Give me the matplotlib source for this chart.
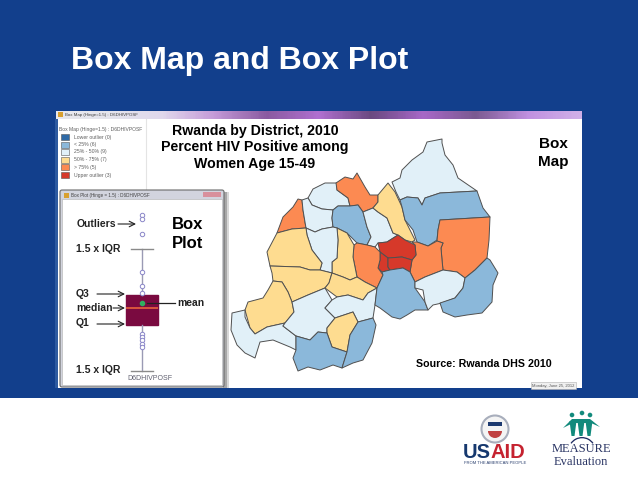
import matplotlib
matplotlib.use('Agg')
import matplotlib.pyplot as plt
import numpy as np
from matplotlib.colors import LinearSegmentedColormap
from matplotlib.patches import Rectangle, Polygon, Circle, FancyBboxPatch, Wedge

plt.rcParams['font.family'] = ['Liberation Sans', 'DejaVu Sans']

# box map classes
class_labels = ['Lower outlier (0)', '< 25% (6)', '25% - 50% (9)', '50% - 75% (7)', '> 75% (5)', 'Upper outlier (3)']
class_colors = ['#2f6aa6', '#8bb8da', '#e1f0f8', '#fedc90', '#fc8a52', '#d6392a']

# district outlines (pixels)
nw_lake = [(298,199),(302,200),(303,210),(305,222),(306,228),(292,229),(277,233),(283,217),(293,207)]
north_a = [(308,198),(313,189),(325,183),(337,183),(337,190),(348,198),(350,206),(338,206),(333,210),(322,209),(312,205)]
north_b = [(336,183),(345,177),(353,179),(357,173),(365,187),(370,195),(378,195),(378,202),(373,208),(363,212),(358,205),(350,206),(348,198),(337,190)]
north_c = [(302,200),(308,198),(312,205),(322,209),(333,210),(332,218),(333,227),(322,229),(315,232),(306,228),(303,210)]
mid_d = [(333,210),(338,206),(350,206),(358,205),(363,212),(367,227),(371,237),(367,245),(357,243),(347,233),(337,228),(333,227),(332,218)]
mid_e = [(363,212),(373,208),(378,212),(387,218),(393,233),(398,235),(387,242),(378,243),(375,247),(367,245),(371,237),(367,227)]
ne_f = [(378,195),(388,183),(395,192),(402,207),(405,220),(415,240),(412,242),(405,240),(398,235),(393,233),(387,218),(378,212),(373,208),(378,202)]
ne_g = [(442,139),(427,142),(423,152),(412,160),(402,170),(400,178),(392,182),(396,192),(400,200),(407,197),(418,198),(422,205),(425,198),(440,193),(477,191),(458,178),(453,165),(445,155),(442,143)]
east_h = [(402,207),(400,200),(407,197),(418,198),(422,205),(425,198),(440,193),(477,191),(483,208),(490,217),(440,220),(438,230),(437,240),(428,246),(417,242),(413,230),(405,220)]
east_i = [(440,220),(490,217),(489,240),(487,258),(475,270),(465,278),(457,272),(443,270),(442,260),(441,248),(443,243),(437,241),(438,230)]
east_j = [(412,242),(417,242),(428,246),(437,241),(443,243),(441,248),(442,260),(443,270),(425,277),(415,282),(410,272),(412,260),(416,255),(415,245)]
kigali_k = [(378,243),(387,242),(398,235),(405,240),(415,245),(416,255),(412,260),(402,257),(388,258),(380,252)]
kigali_l = [(380,252),(388,258),(388,267),(390,270),(382,272),(378,268),(380,260)]
kigali_m = [(388,258),(402,257),(412,260),(410,272),(403,268),(390,270),(388,267)]
center_n = [(354,245),(357,243),(367,245),(375,247),(380,252),(380,260),(378,268),(383,275),(377,288),(365,282),(357,277),(353,257)]
center_o = [(337,228),(347,233),(354,245),(353,257),(357,277),(350,280),(343,277),(332,273),(332,262),(337,258),(338,240)]
west_p = [(306,228),(315,232),(322,229),(333,227),(337,228),(338,240),(337,258),(332,262),(332,273),(320,270),(322,263),(312,250),(307,235)]
west_q = [(277,233),(292,229),(306,228),(307,235),(312,250),(322,263),(320,270),(310,270),(300,267),(270,266),(267,252)]
west_r = [(270,266),(300,267),(310,270),(320,270),(332,273),(329,283),(325,288),(308,295),(292,302),(288,292),(282,282),(273,281),(272,273)]
sw_s = [(273,281),(282,282),(288,292),(292,302),(294,312),(285,323),(267,327),(255,334),(250,328),(245,310),(248,302),(263,298),(268,290)]
sw_t = [(232,313),(245,310),(245,317),(250,328),(255,334),(267,327),(285,323),(283,326),(296,336),(296,350),(290,347),(273,340),(260,342),(255,358),(245,353),(237,345),(231,330)]
south_u = [(292,302),(308,295),(325,288),(332,300),(325,308),(335,318),(327,328),(327,333),(318,332),(310,340),(296,336),(283,326),(285,323),(294,312)]
south_v = [(332,273),(343,277),(350,280),(357,277),(365,282),(377,288),(368,293),(363,300),(348,295),(337,297),(325,288),(329,283)]
south_w = [(337,297),(348,295),(363,300),(368,293),(377,288),(375,305),(373,318),(358,322),(353,312),(335,318),(325,308),(332,300)]
south_x = [(335,318),(353,312),(358,322),(350,335),(347,352),(332,347),(327,333),(327,328)]
south_y = [(296,336),(310,340),(318,332),(327,333),(332,347),(347,352),(342,368),(333,365),(320,370),(308,367),(298,371),(293,358),(296,350)]
south_z = [(358,322),(373,318),(376,325),(372,343),(363,360),(353,363),(342,368),(347,352),(350,335)]
center_aa = [(383,275),(382,272),(390,270),(403,268),(410,272),(415,282),(415,288),(425,302),(428,310),(415,310),(407,315),(400,319),(392,317),(380,308),(375,305),(377,288)]
se_bb = [(415,282),(425,277),(443,270),(457,272),(465,278),(463,288),(455,298),(442,303),(433,305),(428,310),(425,302),(423,290),(415,288)]
se_cc = [(490,260),(498,273),(493,285),(492,302),(482,313),(467,315),(455,317),(443,312),(440,303),(455,298),(463,288),(465,278),(475,270),(487,258)]

districts = [nw_lake, north_a, north_b, north_c, mid_d, mid_e, ne_f, ne_g, east_h, east_i, east_j,
             kigali_k, kigali_l, kigali_m, center_n, center_o, west_p, west_q, west_r, sw_s, sw_t,
             south_u, south_v, south_w, south_x, south_y, south_z, center_aa, se_bb, se_cc]
district_class = [4, 2, 4, 2, 1, 2, 3, 2, 1, 4, 4,
                  5, 5, 5, 4, 3, 2, 3, 3, 3, 2,
                  2, 3, 2, 3, 1, 1, 1, 2, 1]

# box plot values, in picture pixels
box_x = 142
q1, median, q3 = 325, 308, 295
whisker_lo, whisker_hi = 371, 249
mean_y = 303
outliers = [215, 219, 234]
upper_points = [272, 286, 293]
lower_points = [334, 337, 340, 344, 347]

fig = plt.figure(figsize=(6.38, 4.78), dpi=100)
ax = fig.add_axes([0, 0, 1, 1])

# slide background
ax.add_patch(Rectangle((0, 0), 638, 398, fc='#123f8c', ec='none'))
ax.text(71, 61, 'Box Map and Box Plot', color='white', fontsize=23, fontweight='bold', va='center', ha='left')

# screenshot
ax.add_patch(Rectangle((56, 111), 526, 277, fc='white', ec='none', zorder=1))
strip = LinearSegmentedColormap.from_list('strip', ['#e8e8ee', '#e4e4ec', '#e0d8ec', '#c49ad8', '#8a5aa0', '#b070d0',
                                                    '#6a4a80', '#a868c8', '#7a5a90', '#c090e0', '#d0b0e8'])
ax.imshow(np.linspace(0, 1, 200).reshape(1, -1), extent=(56, 582, 119, 111), cmap=strip, aspect='auto', zorder=2)
ax.text(65, 115, 'Box Map (Hinge=1.5) : D6DHIVPOSF', fontsize=3.2, color='#404040', va='center', zorder=3)
ax.add_patch(Rectangle((58, 112), 5, 5, fc='#d8a030', ec='none', zorder=3))
ax.plot([146, 146], [119, 189], color='#e4e4e4', lw=0.8, zorder=2)
ax.add_patch(Rectangle((55, 119), 3, 269, fc='#2d5aa0', ec='none', zorder=2))
ax.text(532, 385.5, 'Monday, June 25, 2012', fontsize=3, color='#555555', va='center', zorder=3,
        bbox=dict(fc='#f0f0f0', ec='#b0b0b0', lw=0.4, pad=0.8))

# legend
ax.text(59, 129, 'Box Map (Hinge=1.5) : D6DHIVPOSF', fontsize=3.6, color='#606060', va='center', zorder=3)
legend_rows = [137, 144.5, 152, 159.5, 167, 175]
for lab, col, yy in zip(class_labels, class_colors, legend_rows):
    ax.add_patch(Rectangle((61, yy - 3), 8, 6, fc=col, ec='#555555', lw=0.4, zorder=3))
    ax.text(74, yy, lab, fontsize=3.7, color='#606060', va='center', zorder=3)

# map
for pts, c in zip(districts, district_class):
    ax.add_patch(Polygon(pts, closed=True, fc=class_colors[c], ec='#505050', lw=0.7, joinstyle='round', zorder=4))

ax.text(255, 131, 'Rwanda by District, 2010', fontsize=10.2, fontweight='bold', ha='center', va='center', zorder=6)
ax.text(255, 147, 'Percent HIV Positive among', fontsize=10.2, fontweight='bold', ha='center', va='center', zorder=6)
ax.text(255, 164, 'Women Age 15-49', fontsize=10.2, fontweight='bold', ha='center', va='center', zorder=6)
ax.text(553, 144, 'Box', fontsize=11, fontweight='bold', ha='center', va='center', zorder=6)
ax.text(553, 162, 'Map', fontsize=11, fontweight='bold', ha='center', va='center', zorder=6)
ax.text(416, 364, 'Source: Rwanda DHS 2010', fontsize=7.7, fontweight='bold', ha='left', va='center', zorder=6)

# box plot window, with its shadow
ax.add_patch(Rectangle((223, 192), 6, 196, fc='#d8d8d8', ec='none', zorder=5))
ax.add_patch(Rectangle((223, 192), 4, 196, fc='#a8a8a8', ec='none', zorder=5))
ax.add_patch(FancyBboxPatch((60, 190), 164, 197, boxstyle='round,pad=0,rounding_size=2', fc='#d2d4de', ec='#6a6a6a', lw=0.8, zorder=6))
ax.add_patch(Rectangle((62, 199), 160, 186, fc='white', ec='#b0b0b0', lw=0.4, zorder=7))
ax.text(71, 195.5, 'Box Plot (Hinge = 1.5) : D6DHIVPOSF', fontsize=3.3, color='#404040', va='center', zorder=8)
ax.add_patch(Rectangle((64, 193), 5, 5, fc='#d8a030', ec='none', zorder=8))
ax.add_patch(Rectangle((203, 192), 18, 5, fc='#d8909c', ec='none', zorder=8))

stats = [dict(whislo=whisker_lo, q1=q1, med=median, q3=q3, whishi=whisker_hi, fliers=outliers)]
ax.bxp(stats, positions=[box_x], widths=[32], manage_ticks=False, patch_artist=True, zorder=9,
       boxprops=dict(facecolor='#7a0a40', edgecolor='#7a0a40'),
       medianprops=dict(color='#e8643c', lw=1.2),
       whiskerprops=dict(color='#9a9ab4', lw=1),
       capprops=dict(color='#8a8a8a', lw=1),
       capwidths=[22],
       flierprops=dict(marker='o', mfc='white', mec='#8a86c8', ms=3.2, mew=0.7))
ax.plot([box_x] * len(upper_points + lower_points), upper_points + lower_points, 'o', mfc='white', mec='#8a86c8', ms=3.2, mew=0.7, zorder=10)
ax.plot([box_x], [mean_y], 'o', color='#30b060', ms=3, zorder=11)
ax.text(150, 379, 'D6DHIVPOSF', fontsize=5, color='#606070', ha='center', va='center', zorder=10)

for txt, xx, yy in [('Outliers', 77, 224), ('1.5 x IQR', 76, 249), ('Q3', 76, 294), ('median', 76, 308),
                    ('Q1', 76, 323), ('1.5 x IQR', 76, 370), ('mean', 177, 303)]:
    ax.text(xx, yy, txt, fontsize=7.5, fontweight='bold', ha='left', va='center', color='#222222', zorder=12)
ax.text(188, 224, 'Box', fontsize=12, fontweight='bold', ha='center', va='center', zorder=12)
ax.text(188, 243, 'Plot', fontsize=12, fontweight='bold', ha='center', va='center', zorder=12)

for x0, x1, yy in [(118, 136, 224), (97, 125, 294), (113, 125, 308), (97, 125, 324)]:
    ax.annotate('', xy=(x1, yy), xytext=(x0, yy), zorder=12,
                arrowprops=dict(arrowstyle='->', color='#222222', lw=0.8, shrinkA=0, shrinkB=0))
ax.plot([147, 175], [mean_y, mean_y], color='#222222', lw=0.9, zorder=12)

# USAID logo
ax.add_patch(Circle((495, 429), 13.5, fc='#f4f4f4', ec='#a8aebc', lw=1.5))
ax.add_patch(Rectangle((488, 422), 14, 4, fc='#1d3a70', ec='none'))
ax.add_patch(Wedge((495, 431), 7, 0, 180, fc='#c04040', ec='none'))
ax.text(463, 452, 'US', fontsize=14.5, fontweight='bold', color='#16386e', ha='left', va='center')
ax.text(490.5, 452, 'AID', fontsize=14.5, fontweight='bold', color='#c5222f', ha='left', va='center')
ax.text(495, 463, 'FROM THE AMERICAN PEOPLE', fontsize=3, color='#2a3f6e', ha='center', va='center')

# MEASURE logo
for cx, cy in [(572, 415), (582, 413), (590, 415)]:
    ax.add_patch(Circle((cx, cy), 2.3, fc='#128a7c', ec='none'))
ax.add_patch(Polygon([(563,428),(572,419),(590,419),(600,427),(591,423),(573,423)], fc='#128a7c', ec='none'))
for bx in [573, 581, 589]:
    ax.add_patch(Polygon([(bx - 3.5, 421), (bx + 3.5, 421), (bx + 1.5, 436), (bx - 1.5, 436)], fc='#128a7c', ec='none'))
ax.add_patch(Wedge((582, 451), 14, 215, 325, width=1.3, fc='#1d2a60', ec='none'))
ax.text(581, 448.5, 'MEASURE', fontsize=9, family='Liberation Serif', color='#2a3564', ha='center', va='center')
ax.text(581, 462, 'Evaluation', fontsize=9, family='Liberation Serif', color='#2a3564', ha='center', va='center')

ax.set_xlim(0, 638)
ax.set_ylim(478, 0)
ax.axis('off')
fig.savefig('out.png', dpi=100)
